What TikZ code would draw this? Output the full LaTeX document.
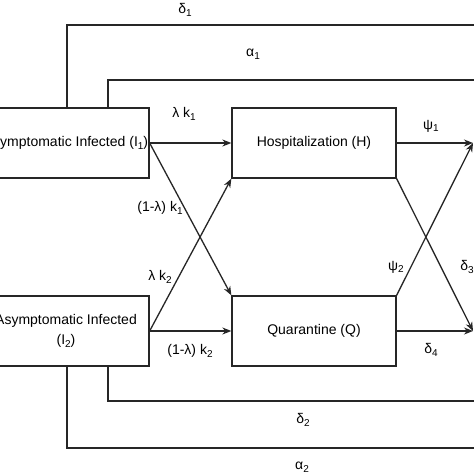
\documentclass[tikz,border=0pt]{standalone}
\usepackage{fontspec}
\setmainfont{Liberation Sans}
\usetikzlibrary{arrows.meta}
\newcommand\sbs[1]{\raisebox{-0.35ex}{\fontsize{10}{10}\selectfont #1}}
\begin{document}
\begin{tikzpicture}[x=1pt,y=-1pt,
  box/.style={draw=black!85, line width=1.3pt, minimum width=164pt, minimum height=70pt, inner sep=0pt, align=center, font=\fontsize{14}{20}\selectfont},
  lbl/.style={font=\fontsize{14}{16}\selectfont, inner sep=1pt},
  flow/.style={line width=1.3pt, draw=black!85, -{Stealth[length=9pt,width=7pt]}},
  link/.style={line width=1.3pt, draw=black!85}]
\clip (0,0) rectangle (474,474);
\fill[white] (0,0) rectangle (474,474);
\node[box, minimum width=166pt] (I1) at (66,143) {Asymptomatic Infected (I\sbs{1})};
\node[box, minimum width=166pt] (I2) at (66,331) {Asymptomatic Infected\\(I\sbs{2})};
\node[box] (H) at (314,143) {Hospitalization (H)};
\node[box] (Q) at (314,331) {Quarantine (Q)};
\coordinate (R1) at (473,143);
\coordinate (R2) at (473,331);
\coordinate (T1) at (474,25);
\coordinate (T2) at (474,80);
\coordinate (B1) at (474,401);
\coordinate (B2) at (474,448);
\draw[flow] (I1.east) -- (H.west);
\draw[flow] (I1.east) -- (Q.north west);
\draw[flow] (I2.east) -- (H.south west);
\draw[flow] (I2.east) -- (Q.west);
\draw[flow] (H.east) -- (R1);
\draw[flow] (H.south east) -- (R2);
\draw[flow] (Q.north east) -- (R1);
\draw[flow] (Q.east) -- (R2);
\draw[link] ([xshift=1pt]I1.north) |- (T1);
\draw[link] ([xshift=42pt]I1.north) |- (T2);
\draw[link] ([xshift=42pt]I2.south) |- (B1);
\draw[link] ([xshift=1pt]I2.south) |- (B2);
\node[lbl] (l1) at (185,10) {δ\sbs{1}};
\node[lbl] (l2) at (253,54) {α\sbs{1}};
\node[lbl] (l3) at (184,114) {λ k\sbs{1}};
\node[lbl] (l4) at (160,208) {(1-λ) k\sbs{1}};
\node[lbl] (l5) at (160,277) {λ k\sbs{2}};
\node[lbl] (l6) at (190,351) {(1-λ) k\sbs{2}};
\node[lbl] (l7) at (431,126) {ψ\sbs{1}};
\node[lbl] (l8) at (396,267) {ψ\sbs{2}};
\node[lbl] (l9) at (467,267) {δ\sbs{3}};
\node[lbl] (l10) at (431,350) {δ\sbs{4}};
\node[lbl] (l11) at (303,420) {δ\sbs{2}};
\node[lbl] (l12) at (302,467) {α\sbs{2}};
\end{tikzpicture}
\end{document}
